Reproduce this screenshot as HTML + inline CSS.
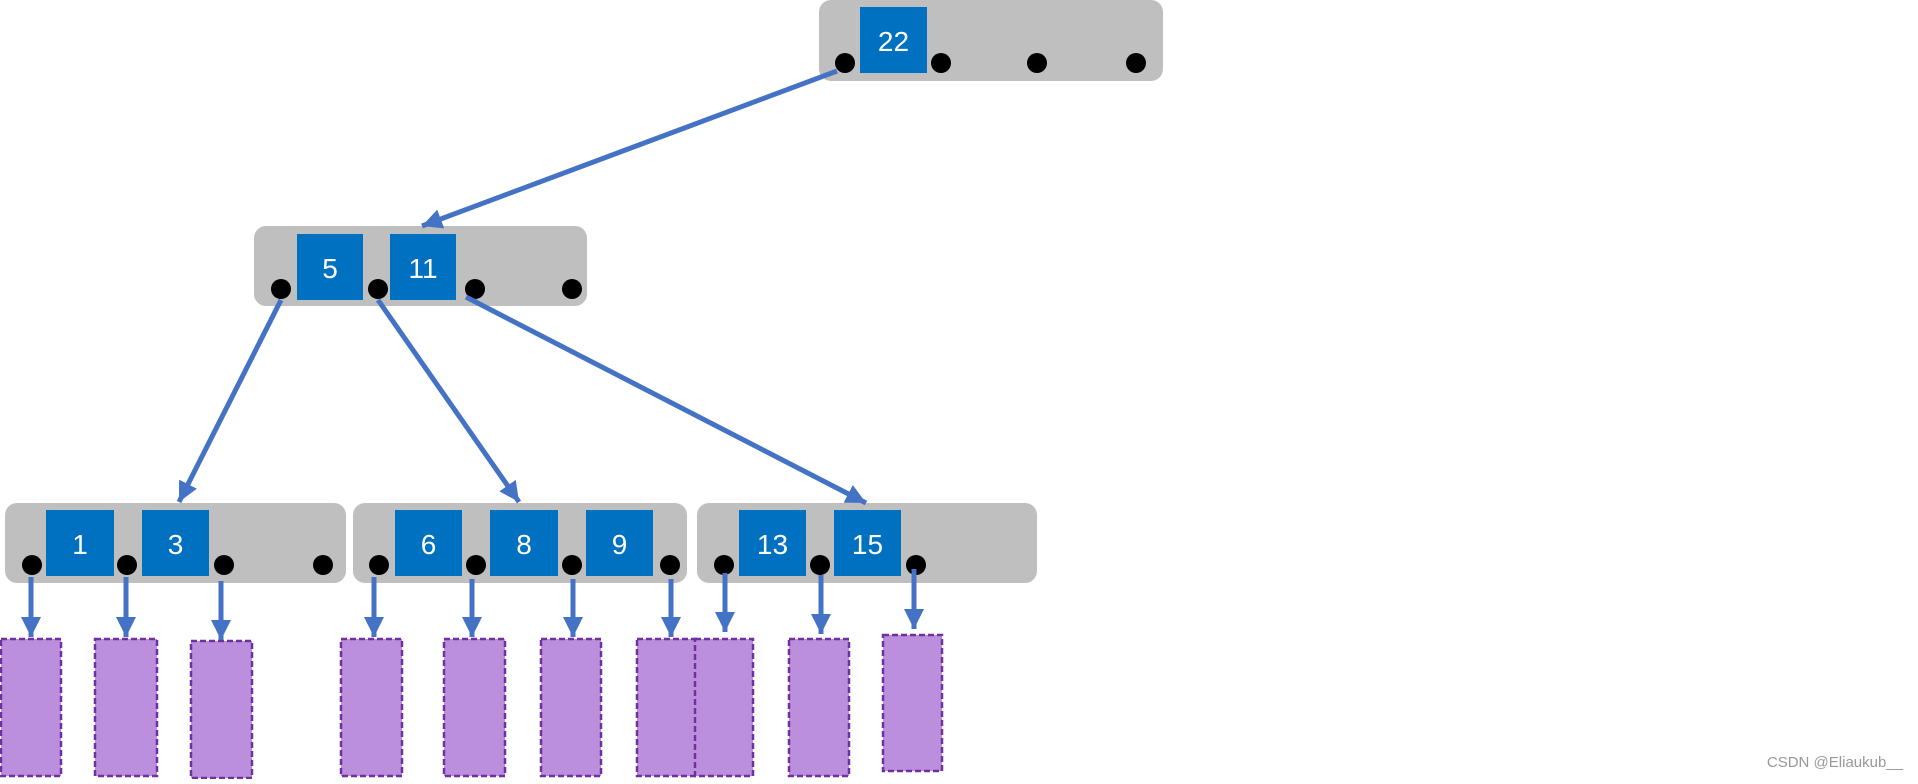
<!DOCTYPE html>
<html><head><style>html,body{margin:0;padding:0;background:#fff;}</style></head>
<body>
<svg width="1918" height="779" viewBox="0 0 1918 779" xmlns="http://www.w3.org/2000/svg" font-family="Liberation Sans, sans-serif">
<defs>
<marker id="ah" markerWidth="4" markerHeight="4" refX="4" refY="2" orient="auto" markerUnits="strokeWidth">
<path d="M0,0 L4,2 L0,4 Z" fill="#4472C4"/>
</marker>
</defs>
<g fill="#BFBFBF">
<rect x="819" y="0" width="344" height="81" rx="12"/>
<rect x="254" y="226" width="333" height="80" rx="12"/>
<rect x="5" y="503" width="341" height="80" rx="12"/>
<rect x="353" y="503" width="334" height="80" rx="12"/>
<rect x="697" y="503" width="340" height="80" rx="12"/>
</g>
<g fill="#0070C0">
<rect x="860" y="7" width="67" height="66"/>
<rect x="297" y="234" width="66" height="66"/>
<rect x="390" y="234" width="66" height="66"/>
<rect x="46" y="510" width="68" height="66"/>
<rect x="142" y="510" width="67" height="66"/>
<rect x="395" y="510" width="67" height="66"/>
<rect x="490" y="510" width="68" height="66"/>
<rect x="586" y="510" width="67" height="66"/>
<rect x="739" y="510" width="67" height="66"/>
<rect x="834" y="510" width="67" height="66"/>
</g>
<g fill="#fff" font-size="28" text-anchor="middle">
<text x="893.5" y="51">22</text>
<text x="330" y="278">5</text>
<text x="423" y="278">11</text>
<text x="80" y="554">1</text>
<text x="175.5" y="554">3</text>
<text x="428.5" y="554">6</text>
<text x="524" y="554">8</text>
<text x="619.5" y="554">9</text>
<text x="772.5" y="554">13</text>
<text x="867.5" y="554">15</text>
</g>
<g fill="#000">
<circle cx="845" cy="63" r="10"/><circle cx="941" cy="63" r="10"/><circle cx="1037" cy="63" r="10"/><circle cx="1136" cy="63" r="10"/>
<circle cx="281" cy="289" r="10"/><circle cx="378" cy="289" r="10"/><circle cx="475" cy="289" r="10"/><circle cx="572" cy="289" r="10"/>
<circle cx="32" cy="565" r="10"/><circle cx="127" cy="565" r="10"/><circle cx="224" cy="565" r="10"/><circle cx="323" cy="565" r="10"/>
<circle cx="379" cy="565" r="10"/><circle cx="476" cy="565" r="10"/><circle cx="572" cy="565" r="10"/><circle cx="670" cy="565" r="10"/>
<circle cx="724" cy="565" r="10"/><circle cx="820" cy="565" r="10"/><circle cx="916" cy="565" r="10"/>
</g>
<g fill="#BB8FDD" stroke="#7030A0" stroke-width="2.5" stroke-dasharray="6,3">
<rect x="1" y="639" width="60" height="137"/>
<rect x="95" y="639" width="62" height="137"/>
<rect x="191" y="641" width="61" height="137"/>
<rect x="341" y="639" width="61" height="137"/>
<rect x="444" y="639" width="61" height="137"/>
<rect x="541" y="639" width="60" height="137"/>
<rect x="637" y="639" width="60" height="137"/>
<rect x="695" y="639" width="58" height="137"/>
<rect x="789" y="639" width="60" height="137"/>
<rect x="883" y="635" width="59" height="136"/>
</g>
<g stroke="#4472C4" stroke-width="5" fill="none" marker-end="url(#ah)">
<line x1="837" y1="71" x2="422" y2="226"/>
<line x1="281" y1="300" x2="179" y2="502"/>
<line x1="378" y1="300" x2="519" y2="502"/>
<line x1="466" y1="297" x2="866" y2="503"/>
<line x1="31" y1="577" x2="31" y2="637"/>
<line x1="126" y1="577" x2="126" y2="637"/>
<line x1="221" y1="581" x2="221" y2="640"/>
<line x1="374" y1="577" x2="374" y2="637"/>
<line x1="472" y1="579" x2="472" y2="637"/>
<line x1="573" y1="579" x2="573" y2="637"/>
<line x1="671" y1="579" x2="671" y2="637"/>
<line x1="725" y1="573" x2="725" y2="632"/>
<line x1="821" y1="575" x2="821" y2="634"/>
<line x1="914" y1="569" x2="914" y2="629"/>
</g>
<text x="1903" y="767" font-size="15" fill="#999" text-anchor="end">CSDN @Eliaukub__</text>
</svg>
</body></html>
